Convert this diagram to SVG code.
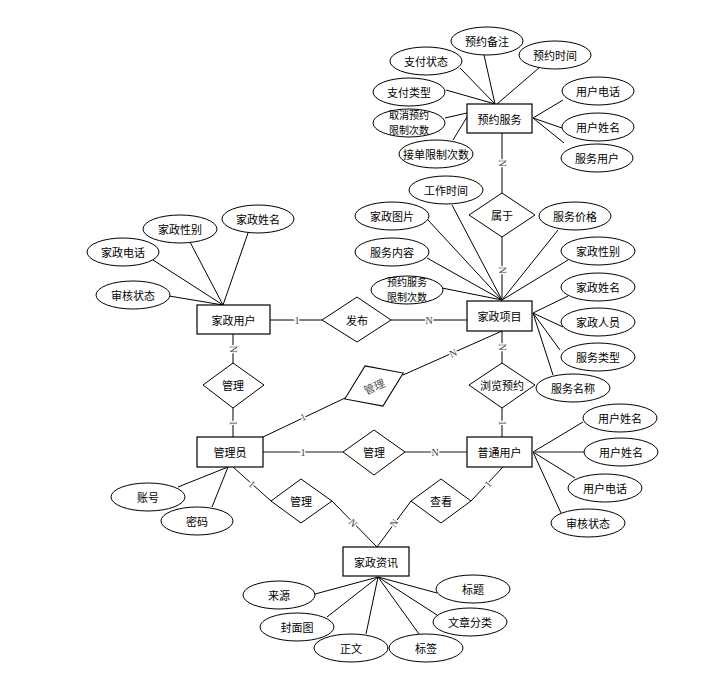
<svg xmlns="http://www.w3.org/2000/svg" width="706" height="684" viewBox="0 0 706 684">
<style>
.ent{fill:#fff;stroke:#000;stroke-width:1.2}
.att{fill:#fff;stroke:#000;stroke-width:1}
.rel{fill:#fff;stroke:#000;stroke-width:1}
.t{font-family:"Noto Sans CJK SC","Noto Sans",sans-serif;font-size:11px;fill:#000;text-anchor:middle;dominant-baseline:central}
.t2{font-family:"Noto Sans CJK SC","Noto Sans",sans-serif;font-size:10px;fill:#000;text-anchor:middle}
.tg{fill:#555}
.c line,.c polyline{stroke:#000;stroke-width:1;fill:none}
.c .g{stroke:#666;stroke-width:1.6}
.lb{font-family:"Liberation Serif",serif;font-size:10px;fill:#444;text-anchor:middle;dominant-baseline:central;stroke:#fff;stroke-width:3;paint-order:stroke}
</style>
<rect width="706" height="684" fill="#fff"/>
<g id="connectors" class="c">
<line x1="484" y1="55" x2="495" y2="104"/>
<line x1="460" y1="68" x2="495" y2="104"/>
<line x1="540" y1="67" x2="497" y2="104"/>
<line x1="446" y1="90" x2="495" y2="104"/>
<line x1="445" y1="118" x2="467" y2="113"/>
<line x1="453" y1="140" x2="467" y2="117"/>
<line x1="563" y1="100" x2="533" y2="118"/>
<line x1="562" y1="128" x2="533" y2="118"/>
<line x1="564" y1="143" x2="533" y2="118"/>
<line x1="248" y1="233" x2="223" y2="305"/>
<line x1="190" y1="242" x2="223" y2="305"/>
<line x1="153" y1="260" x2="223" y2="305"/>
<line x1="169" y1="296" x2="223" y2="305"/>
<line x1="452" y1="205" x2="502" y2="300"/>
<line x1="428" y1="220" x2="502" y2="300"/>
<line x1="427" y1="258" x2="502" y2="300"/>
<line x1="442" y1="288" x2="502" y2="300"/>
<line x1="558" y1="230" x2="502" y2="300"/>
<line x1="568" y1="260" x2="502" y2="300"/>
<line x1="568" y1="296" x2="533" y2="313"/>
<line x1="563" y1="327" x2="533" y2="313"/>
<line x1="560" y1="350" x2="533" y2="313"/>
<line x1="553" y1="375" x2="533" y2="313"/>
<line x1="583" y1="422" x2="533" y2="452"/>
<line class="g" x1="585" y1="452" x2="533" y2="452"/>
<line x1="575" y1="478" x2="533" y2="452"/>
<line x1="561" y1="513" x2="533" y2="452"/>
<line x1="178" y1="487" x2="228" y2="467"/>
<line x1="212" y1="507" x2="228" y2="467"/>
<line x1="315" y1="594" x2="378" y2="577"/>
<line x1="327" y1="617" x2="378" y2="577"/>
<line x1="366" y1="634" x2="378" y2="577"/>
<line x1="419" y1="634" x2="378" y2="577"/>
<line x1="437" y1="615" x2="378" y2="577"/>
<line x1="437" y1="593" x2="378" y2="577"/>
<line x1="270" y1="320" x2="322" y2="320"/>
<line x1="391" y1="320" x2="467" y2="320"/>
<line x1="502" y1="133" x2="502" y2="193"/>
<line x1="502" y1="237" x2="502" y2="301"/>
<line x1="233" y1="334" x2="233" y2="363"/>
<line x1="233" y1="408" x2="233" y2="437"/>
<line x1="263" y1="437" x2="345" y2="398"/>
<line x1="403" y1="375" x2="502" y2="331"/>
<line x1="502" y1="331" x2="502" y2="363"/>
<line x1="502" y1="408" x2="502" y2="437"/>
<line class="g" x1="263" y1="452" x2="343" y2="452"/>
<line class="g" x1="405" y1="452" x2="467" y2="452"/>
<line x1="233" y1="467" x2="271" y2="501"/>
<line x1="332" y1="501" x2="377" y2="547"/>
<line x1="377" y1="547" x2="411" y2="501"/>
<line x1="471" y1="501" x2="503" y2="467"/>
</g>
<g id="cardinalities">
<text class="lb" x="297" y="320">1</text>
<text class="lb" x="429" y="320">N</text>
<text class="lb" transform="translate(502,163) rotate(90)">N</text>
<text class="lb" transform="translate(502,270) rotate(90)">N</text>
<text class="lb" transform="translate(233,349) rotate(90)">N</text>
<text class="lb" transform="translate(233,423) rotate(90)">1</text>
<text class="lb" transform="translate(303,417) rotate(-24)">1</text>
<text class="lb" transform="translate(453,353) rotate(-24)">N</text>
<text class="lb" transform="translate(502,347) rotate(90)">N</text>
<text class="lb" transform="translate(502,423) rotate(90)">1</text>
<text class="lb" x="303" y="452">1</text>
<text class="lb" x="435" y="452">N</text>
<text class="lb" transform="translate(252,484) rotate(42)">1</text>
<text class="lb" transform="translate(353,523) rotate(46)">N</text>
<text class="lb" transform="translate(394,523) rotate(-54)">N</text>
<text class="lb" transform="translate(488,484) rotate(-47)">1</text>
</g>
<g id="e-yuyuefuwu"><rect class="ent" x="467" y="104" width="65" height="29"/><text class="t" x="499.5" y="118.5">预约服务</text></g>
<g id="e-jiazhengyonghu"><rect class="ent" x="197" y="305" width="73" height="29"/><text class="t" x="233.5" y="319.5">家政用户</text></g>
<g id="e-jiazhengxiangmu"><rect class="ent" x="467" y="301" width="65" height="30"/><text class="t" x="499.5" y="316">家政项目</text></g>
<g id="e-guanliyuan"><rect class="ent" x="197" y="437" width="66" height="30"/><text class="t" x="230" y="452">管理员</text></g>
<g id="e-putongyonghu"><rect class="ent" x="467" y="437" width="65" height="30"/><text class="t" x="499.5" y="452">普通用户</text></g>
<g id="e-jiazhengzixun"><rect class="ent" x="343" y="547" width="66" height="29"/><text class="t" x="376" y="561.5">家政资讯</text></g>
<g id="r-fabu"><polygon class="rel" points="322,320 357,297 391,320 357,342"/><text class="t" x="357" y="320">发布</text></g>
<g id="r-shuyu"><polygon class="rel" points="469,215 502,193 535,215 502,237"/><text class="t" x="502" y="215">属于</text></g>
<g id="r-guanli1"><polygon class="rel" points="203,385 233,363 264,385 233,408"/><text class="t" x="233" y="385">管理</text></g>
<g id="r-guanli2" transform="translate(374,386) rotate(-24)"><polygon class="rel" points="-32,0 0,-22 32,0 0,22"/><text class="t tg" x="0" y="0">管理</text></g>
<g id="r-liulanyuyue"><polygon class="rel" points="469,385 502,363 535,385 502,408"/><text class="t" x="502" y="385">浏览预约</text></g>
<g id="r-guanli3"><polygon class="rel" points="343,452 374,430 405,452 374,475"/><text class="t" x="374" y="452">管理</text></g>
<g id="r-guanli4"><polygon class="rel" points="271,501 301,479 332,501 301,523"/><text class="t" x="301" y="501">管理</text></g>
<g id="r-chakan"><polygon class="rel" points="411,501 441,479 471,501 441,523"/><text class="t" x="441" y="501">查看</text></g>
<g id="a-yuyuebeizhu"><ellipse class="att" cx="487" cy="41" rx="36" ry="14"/><text class="t" x="487" y="41">预约备注</text></g>
<g id="a-zhifuzhuangtai"><ellipse class="att" cx="426" cy="61" rx="36" ry="14"/><text class="t" x="426" y="61">支付状态</text></g>
<g id="a-yuyueshijian"><ellipse class="att" cx="555" cy="55" rx="36" ry="14"/><text class="t" x="555" y="55">预约时间</text></g>
<g id="a-zhifuleixing"><ellipse class="att" cx="409" cy="92" rx="36" ry="14"/><text class="t" x="409" y="92">支付类型</text></g>
<g id="a-quxiao"><ellipse class="att" cx="409" cy="123" rx="36" ry="14"/><text class="t2" x="409" y="119"><tspan x="409">取消预约</tspan><tspan x="409" dy="15">限制次数</tspan></text></g>
<g id="a-jiedan"><ellipse class="att" cx="436" cy="154" rx="37" ry="14"/><text class="t" x="436" y="154">接单限制次数</text></g>
<g id="a-yhdh1"><ellipse class="att" cx="598" cy="91" rx="36" ry="14"/><text class="t" x="598" y="91">用户电话</text></g>
<g id="a-yhxm1"><ellipse class="att" cx="598" cy="127" rx="36" ry="14"/><text class="t" x="598" y="127">用户姓名</text></g>
<g id="a-fwyh"><ellipse class="att" cx="597" cy="158" rx="36" ry="14"/><text class="t" x="597" y="158">服务用户</text></g>
<g id="a-jzxm1"><ellipse class="att" cx="258" cy="219" rx="36" ry="14"/><text class="t" x="258" y="219">家政姓名</text></g>
<g id="a-jzxb1"><ellipse class="att" cx="180" cy="229" rx="37" ry="14"/><text class="t" x="180" y="229">家政性别</text></g>
<g id="a-jzdh"><ellipse class="att" cx="123" cy="252" rx="36" ry="14"/><text class="t" x="123" y="252">家政电话</text></g>
<g id="a-shzt1"><ellipse class="att" cx="133" cy="295" rx="37" ry="14"/><text class="t" x="133" y="295">审核状态</text></g>
<g id="a-gzsj"><ellipse class="att" cx="446" cy="190" rx="37" ry="14"/><text class="t" x="446" y="190">工作时间</text></g>
<g id="a-jztp"><ellipse class="att" cx="392" cy="216" rx="37" ry="14"/><text class="t" x="392" y="216">家政图片</text></g>
<g id="a-fwjg"><ellipse class="att" cx="575" cy="216" rx="36" ry="14"/><text class="t" x="575" y="216">服务价格</text></g>
<g id="a-fwnr"><ellipse class="att" cx="392" cy="252" rx="37" ry="14"/><text class="t" x="392" y="252">服务内容</text></g>
<g id="a-jzxb2"><ellipse class="att" cx="598" cy="251" rx="37" ry="14"/><text class="t" x="598" y="251">家政性别</text></g>
<g id="a-yyfwxz"><ellipse class="att" cx="407" cy="290" rx="36" ry="14"/><text class="t2" x="407" y="286"><tspan x="407">预约服务</tspan><tspan x="407" dy="15">限制次数</tspan></text></g>
<g id="a-jzxm2"><ellipse class="att" cx="598" cy="287" rx="37" ry="14"/><text class="t" x="598" y="287">家政姓名</text></g>
<g id="a-jzry"><ellipse class="att" cx="598" cy="322" rx="37" ry="14"/><text class="t" x="598" y="322">家政人员</text></g>
<g id="a-fwlx"><ellipse class="att" cx="598" cy="357" rx="37" ry="14"/><text class="t" x="598" y="357">服务类型</text></g>
<g id="a-fwmc"><ellipse class="att" cx="573" cy="388" rx="37" ry="14"/><text class="t" x="573" y="388">服务名称</text></g>
<g id="a-yhxm2"><ellipse class="att" cx="620" cy="418" rx="37" ry="14"/><text class="t" x="620" y="418">用户姓名</text></g>
<g id="a-yhxm3"><ellipse class="att" cx="621" cy="452" rx="37" ry="14"/><text class="t" x="621" y="452">用户姓名</text></g>
<g id="a-yhdh2"><ellipse class="att" cx="605" cy="488" rx="37" ry="14"/><text class="t" x="605" y="488">用户电话</text></g>
<g id="a-shzt2"><ellipse class="att" cx="588" cy="523" rx="37" ry="14"/><text class="t" x="588" y="523">审核状态</text></g>
<g id="a-zhanghao"><ellipse class="att" cx="148" cy="497" rx="37" ry="14"/><text class="t" x="148" y="497">账号</text></g>
<g id="a-mima"><ellipse class="att" cx="197" cy="521" rx="36" ry="14"/><text class="t" x="197" y="521">密码</text></g>
<g id="a-laiyuan"><ellipse class="att" cx="279" cy="595" rx="36" ry="14"/><text class="t" x="279" y="595">来源</text></g>
<g id="a-fengmiantu"><ellipse class="att" cx="297" cy="627" rx="37" ry="14"/><text class="t" x="297" y="627">封面图</text></g>
<g id="a-zhengwen"><ellipse class="att" cx="351" cy="648" rx="37" ry="14"/><text class="t" x="351" y="648">正文</text></g>
<g id="a-biaoqian"><ellipse class="att" cx="426" cy="648" rx="37" ry="14"/><text class="t" x="426" y="648">标签</text></g>
<g id="a-wzfl"><ellipse class="att" cx="470" cy="622" rx="37" ry="14"/><text class="t" x="470" y="622">文章分类</text></g>
<g id="a-biaoti"><ellipse class="att" cx="473" cy="589" rx="37" ry="14"/><text class="t" x="473" y="589">标题</text></g>
</svg>
